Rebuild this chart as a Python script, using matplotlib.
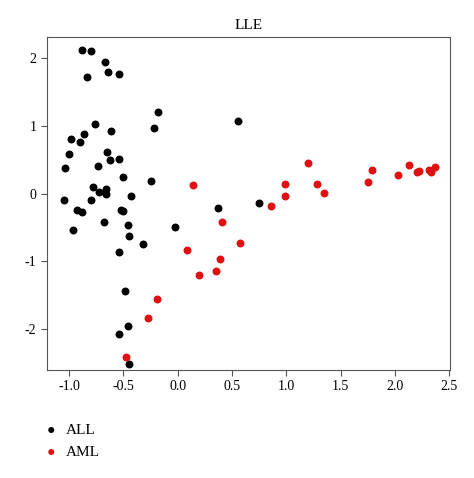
import matplotlib
matplotlib.use("Agg")
import matplotlib.pyplot as plt

plt.rcParams['font.family'] = ['Liberation Serif', 'DejaVu Serif']
plt.rcParams['axes.unicode_minus'] = False

all_x = [-0.878, -0.80, -0.671, -0.638, -0.537, -0.834, -0.180, -0.220, 0.553, -0.758,
         -0.613, -0.862, -0.979, -0.901, -1.003, -0.647, -0.622, -0.542, -1.040, -0.733,
         -0.503, -0.248, -0.776, -0.727, -0.657, -0.659, -0.426, -1.049, -0.80, -0.929,
         -0.883, -0.521, -0.506, 0.372, 0.747, -0.680, -0.457, -0.963, -0.027, -0.450,
         -0.321, -0.537, -0.484, -0.457, -0.542, -0.450]
all_y = [2.12, 2.10, 1.94, 1.80, 1.77, 1.72, 1.20, 0.97, 1.07, 1.02,
         0.92, 0.88, 0.81, 0.76, 0.58, 0.61, 0.49, 0.51, 0.38, 0.40,
         0.24, 0.19, 0.10, 0.02, 0.06, 0.00, -0.03, -0.10, -0.10, -0.25,
         -0.28, -0.24, -0.26, -0.22, -0.14, -0.42, -0.46, -0.54, -0.50, -0.62,
         -0.74, -0.87, -1.44, -1.96, -2.07, -2.51]

aml_x = [0.142, 0.857, 0.406, 0.575, 0.084, 0.390, 0.197, 0.351, -0.190, -0.275,
         -0.478, 0.989, 0.986, 1.201, 1.284, 1.351, 1.750, 1.787, 2.032, 2.134,
         2.202, 2.226, 2.318, 2.333, 2.373]
aml_y = [0.12, -0.19, -0.42, -0.73, -0.84, -0.97, -1.21, -1.15, -1.56, -1.84,
         -2.42, 0.14, -0.03, 0.45, 0.14, 0.01, 0.17, 0.35, 0.28, 0.42,
         0.32, 0.33, 0.35, 0.32, 0.39]

fig = plt.figure(figsize=(4.74, 4.78), dpi=100)
ax = fig.add_axes([47/474, 1 - 370/478, 403/474, 333/478])

ax.scatter(all_x, all_y, s=22, color='black', zorder=3)
ax.scatter(aml_x, aml_y, s=22, color='#e01010', zorder=3)

ax.set_xlim(-1.203, 2.508)
ax.set_ylim(-2.605, 2.31)
ax.set_xticks([-1.0, -0.5, 0.0, 0.5, 1.0, 1.5, 2.0, 2.5])
ax.set_xticklabels(['-1.0', '-0.5', '0.0', '0.5', '1.0', '1.5', '2.0', '2.5'])
ax.set_yticks([-2, -1, 0, 1, 2])
for s in ax.spines.values():
    s.set_color('#555555')
ax.tick_params(labelsize=10, color='#555555', length=4)
ax.set_title('LLE', fontsize=11, pad=6)

# legend below the plot
fig.text(47/474, 1 - 430/478, '\u25CF', fontsize=10, va='center', color='black')
fig.text(66/474, 1 - 430/478, 'ALL', fontsize=11, va='center')
fig.text(47/474, 1 - 452/478, '\u25CF', fontsize=10, va='center', color='#e01010')
fig.text(66/474, 1 - 452/478, 'AML', fontsize=11, va='center')

fig.savefig('out.png', dpi=100)
